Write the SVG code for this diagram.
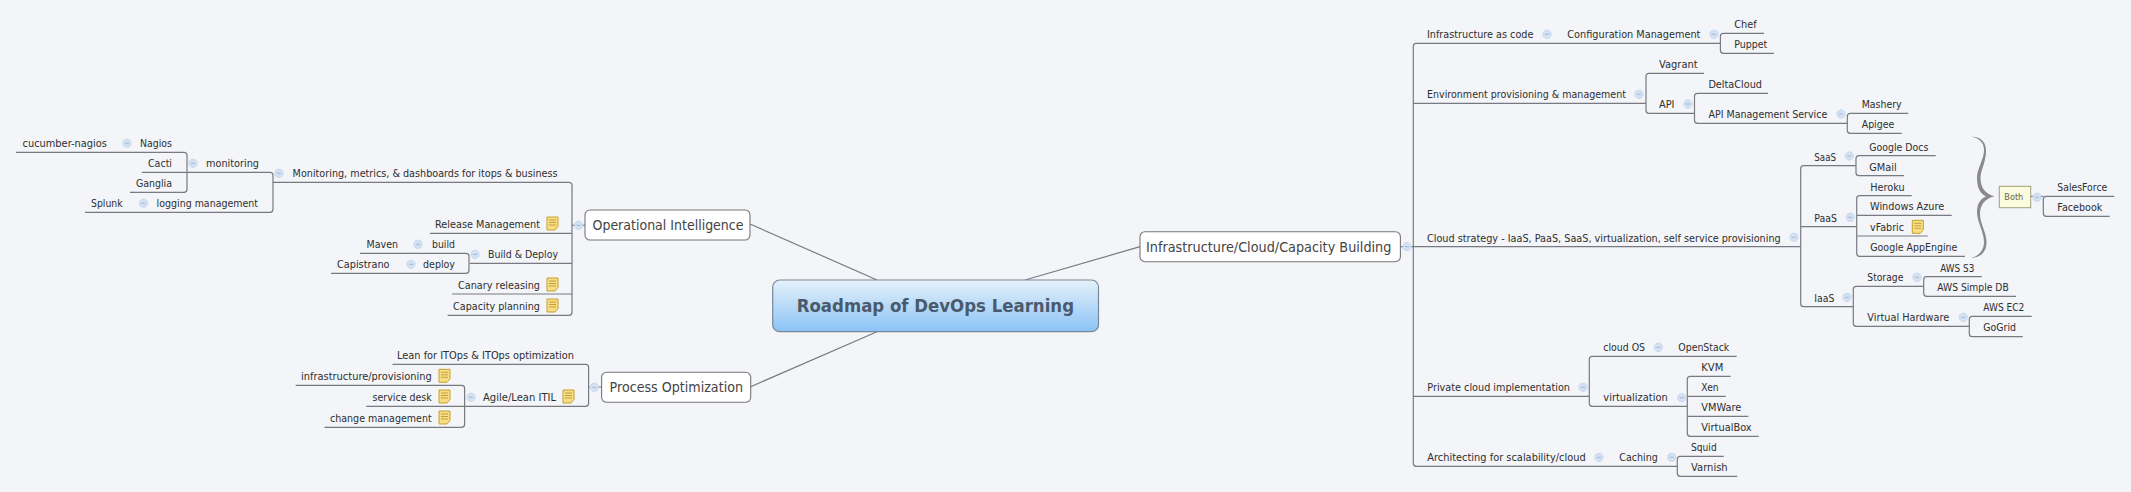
<svg xmlns="http://www.w3.org/2000/svg" width="2131" height="492" viewBox="0 0 2131 492">
<style>
text{font-family:"DejaVu Sans","Liberation Sans",sans-serif;font-size:11px;fill:#2e2e2e}
text.t{font-size:14px;fill:#444}
text.c{font-family:"DejaVu Sans",sans-serif;font-size:17.5px;font-weight:bold;fill:#4a5a6c}
text.b{font-size:8.5px;fill:#66664a}
.w{fill:#fff;stroke:#777;stroke-width:1.1}
#connectors path{fill:none;stroke:#777a80;stroke-width:1.2}
</style>
<defs>
<linearGradient id="g" x1="0" y1="0" x2="0" y2="1"><stop offset="0" stop-color="#e6f1fa"/><stop offset="1" stop-color="#8ac3f6"/></linearGradient>
<g id="k"><circle r="4.2" fill="#d3e1f3" stroke="#c4d5ec" stroke-width="0.8"/><path d="M-2 0H2" stroke="#9db2cf" stroke-width="0.9"/></g>
<g id="n"><path d="M0 0H11V9.5L8 13H0Z" fill="#f7de84" stroke="#c9a02c" stroke-width="1"/><path d="M2 3H9M2 5.5H9M2 8H9" stroke="#b8912a" stroke-width="0.8"/></g>
</defs>
<rect width="2131" height="492" fill="#f3f5f9"/>
<g id="connectors">
<path d="M750 224L877 280M750.7 386.7L877 331.7M1140 246.7L1025 280"/>
<path d="M16 152.3H184Q187 152.3 187 155.3V189.3Q187 192.3 184 192.3H130"/>
<path d="M142 172.3H187"/>
<path d="M187 172.3H270Q273 172.3 273 175.3V209.3Q273 212.3 270 212.3H85"/>
<path d="M273 182.3H569Q572 182.3 572 185.3V312.3Q572 315.3 569 315.3H447.6"/>
<path d="M430 233.3H572M470 263.3H572M452 294H572M572 225.3H585"/>
<path d="M360 253.3H466Q469 253.3 469 256.3V270.3Q469 273.3 466 273.3H331"/>
<path d="M392.5 364.3H585.6Q588.6 364.3 588.6 367.3V403.3Q588.6 406.3 585.6 406.3H366.3M588.6 387H601.6"/>
<path d="M295.7 385.3H461.6Q464.6 385.3 464.6 388.3V424.3Q464.6 427.3 461.6 427.3H324.5"/>
<path d="M1720.4 43.3H1416.3Q1413.3 43.3 1413.3 46.3V463.3Q1413.3 466.3 1416.3 466.3H1677.3"/>
<path d="M1400.4 246.7H1800.8M1413.3 103.3H1646M1413.3 396.3H1589.3"/>
<path d="M1764 33.3H1723.4Q1720.4 33.3 1720.4 36.3V50.3Q1720.4 53.3 1723.4 53.3H1774"/>
<path d="M1704 73.3H1649Q1646 73.3 1646 76.3V110.3Q1646 113.3 1649 113.3H1694.5"/>
<path d="M1768 93.3H1697.5Q1694.5 93.3 1694.5 96.3V120.3Q1694.5 123.3 1697.5 123.3H1847.3"/>
<path d="M1908.3 113.3H1850.3Q1847.3 113.3 1847.3 116.3V130.3Q1847.3 133.3 1850.3 133.3H1901.7"/>
<path d="M1856 165.7H1803.7Q1800.7 165.7 1800.7 168.7V303.7Q1800.7 306.7 1803.7 306.7H1853.3M1800.7 226.7H1856.7"/>
<path d="M1935.7 155.7H1859Q1856 155.7 1856 158.7V172.7Q1856 175.7 1859 175.7H1904"/>
<path d="M1911.7 195.7H1859.7Q1856.7 195.7 1856.7 198.7V253.3Q1856.7 256.3 1859.7 256.3H1965M1856.7 215.3H1951.7M1856.7 236H1927.7"/>
<path d="M1923.7 286.3H1856.3Q1853.3 286.3 1853.3 289.3V323.3Q1853.3 326.3 1856.3 326.3H1969.3"/>
<path d="M1981.7 276.7H1926.7Q1923.7 276.7 1923.7 279.7V293.3Q1923.7 296.3 1926.7 296.3H2016"/>
<path d="M2031.7 316.3H1972.3Q1969.3 316.3 1969.3 319.3V333.7Q1969.3 336.7 1972.3 336.7H2022.7"/>
<path d="M2030.7 196.3H2043.3M2114.3 196.3H2046.3Q2043.3 196.3 2043.3 199.3V213.3Q2043.3 216.3 2046.3 216.3H2109.7"/>
<path d="M1736.7 356.3H1592.3Q1589.3 356.3 1589.3 359.3V403.3Q1589.3 406.3 1592.3 406.3H1687.3"/>
<path d="M1730.7 376.3H1690.3Q1687.3 376.3 1687.3 379.3V433.3Q1687.3 436.3 1690.3 436.3H1758.7M1687.3 396.3H1725.7M1687.3 416.3H1748.3"/>
<path d="M1723.7 456.3H1680.3Q1677.3 456.3 1677.3 459.3V473.3Q1677.3 476.3 1680.3 476.3H1737.3"/>
</g>
<path id="brace" fill="#8a8a8a" d="M1971 136.7C1982 136.5 1986.5 143 1986 152C1985.5 163 1980.5 171 1980.5 178C1980.5 187 1985 194 1994.5 196.3C1985 198.5 1980 205 1980 214C1980 224 1986.5 232 1986.5 242C1986.5 251 1982 257.5 1971 258C1979 256 1984 250 1984 242C1984 232 1977 222 1977 212C1977 204 1980 199 1986 196.5C1980 194 1977 187 1977 178C1977 168 1984 160 1984 150C1984 142 1979 138 1971 136.7Z"/>

<g id="root"><rect x="772.7" y="280" width="325.8" height="51.7" rx="7" fill="url(#g)" stroke="#7a8797" stroke-width="1.2"/><text class="c" x="796.7" y="311.5" textLength="277.3" lengthAdjust="spacingAndGlyphs">Roadmap of DevOps Learning</text></g>

<g id="ops"><rect class="w" x="585" y="210" width="165" height="30" rx="5"/><text class="t" x="592.5" y="230" textLength="151" lengthAdjust="spacingAndGlyphs">Operational Intelligence</text><use href="#k" x="578.5" y="225.3"/></g>
<g id="proc"><rect class="w" x="601.6" y="372.3" width="149.1" height="30" rx="5"/><text class="t" x="609.5" y="391.5" textLength="133.5" lengthAdjust="spacingAndGlyphs">Process Optimization</text><use href="#k" x="594.3" y="387.3"/></g>
<g id="infra"><rect class="w" x="1140" y="231.7" width="260.4" height="30" rx="5"/><text class="t" x="1146" y="251.5" textLength="245.4" lengthAdjust="spacingAndGlyphs">Infrastructure/Cloud/Capacity Building</text><use href="#k" x="1407" y="246.7"/></g>

<g id="n1"><text x="22.5" y="147.3" textLength="84.5" lengthAdjust="spacingAndGlyphs">cucumber-nagios</text></g>
<g id="n2"><text x="140" y="147.3" textLength="32" lengthAdjust="spacingAndGlyphs">Nagios</text><use href="#k" x="127" y="143.3"/></g>
<g id="n3"><text x="148" y="167.3" textLength="24" lengthAdjust="spacingAndGlyphs">Cacti</text></g>
<g id="n4"><text x="206" y="167.3" textLength="53" lengthAdjust="spacingAndGlyphs">monitoring</text><use href="#k" x="193" y="163.3"/></g>
<g id="n5"><text x="136" y="187.3" textLength="36" lengthAdjust="spacingAndGlyphs">Ganglia</text></g>
<g id="n6"><text x="156.6" y="207.3" textLength="101.4" lengthAdjust="spacingAndGlyphs">logging management</text><use href="#k" x="143.5" y="203.3"/></g>
<g id="n7"><text x="91" y="207.3" textLength="31.6" lengthAdjust="spacingAndGlyphs">Splunk</text></g>
<g id="n8"><text x="292.6" y="177.3" textLength="264.9" lengthAdjust="spacingAndGlyphs">Monitoring, metrics, &amp; dashboards for itops &amp; business</text><use href="#k" x="279" y="173.3"/></g>
<g id="n9"><text x="435" y="228.3" textLength="105" lengthAdjust="spacingAndGlyphs">Release Management</text><use href="#n" x="547" y="217"/></g>
<g id="n10"><text x="488" y="258.3" textLength="70" lengthAdjust="spacingAndGlyphs">Build &amp; Deploy</text><use href="#k" x="475" y="254.3"/></g>
<g id="n11"><text x="432" y="248.3" textLength="23" lengthAdjust="spacingAndGlyphs">build</text><use href="#k" x="418" y="244.3"/></g>
<g id="n12"><text x="366.5" y="248.3" textLength="31.5" lengthAdjust="spacingAndGlyphs">Maven</text></g>
<g id="n13"><text x="423" y="268.3" textLength="32" lengthAdjust="spacingAndGlyphs">deploy</text><use href="#k" x="411" y="264.3"/></g>
<g id="n14"><text x="337" y="268.3" textLength="52.5" lengthAdjust="spacingAndGlyphs">Capistrano</text></g>
<g id="n15"><text x="458" y="289" textLength="82" lengthAdjust="spacingAndGlyphs">Canary releasing</text><use href="#n" x="547" y="278"/></g>
<g id="n16"><text x="453" y="310.3" textLength="87" lengthAdjust="spacingAndGlyphs">Capacity planning</text><use href="#n" x="547" y="299"/></g>

<g id="n17"><text x="397" y="359.3" textLength="177" lengthAdjust="spacingAndGlyphs">Lean for ITOps &amp; ITOps optimization</text></g>
<g id="n18"><text x="483" y="401.3" textLength="73" lengthAdjust="spacingAndGlyphs">Agile/Lean ITIL</text><use href="#n" x="563" y="390"/><use href="#k" x="471" y="397.3"/></g>
<g id="n19"><text x="301" y="380.3" textLength="130.7" lengthAdjust="spacingAndGlyphs">infrastructure/provisioning</text><use href="#n" x="439" y="369.3"/></g>
<g id="n20"><text x="372.6" y="401.3" textLength="59.1" lengthAdjust="spacingAndGlyphs">service desk</text><use href="#n" x="439" y="390"/></g>
<g id="n21"><text x="330" y="422.3" textLength="101.7" lengthAdjust="spacingAndGlyphs">change management</text><use href="#n" x="439" y="411"/></g>

<g id="n22"><text x="1427" y="38.3" textLength="106.4" lengthAdjust="spacingAndGlyphs">Infrastructure as code</text><use href="#k" x="1547" y="34.3"/></g>
<g id="n23"><text x="1567.3" y="38.3" textLength="133.1" lengthAdjust="spacingAndGlyphs">Configuration Management</text><use href="#k" x="1714" y="34.3"/></g>
<g id="n24"><text x="1734.3" y="28.3" textLength="22.3" lengthAdjust="spacingAndGlyphs">Chef</text></g>
<g id="n25"><text x="1734.3" y="48.3" textLength="33" lengthAdjust="spacingAndGlyphs">Puppet</text></g>
<g id="n26"><text x="1427" y="98.3" textLength="199" lengthAdjust="spacingAndGlyphs">Environment provisioning &amp; management</text><use href="#k" x="1639" y="94.3"/></g>
<g id="n27"><text x="1659" y="68.3" textLength="38.7" lengthAdjust="spacingAndGlyphs">Vagrant</text></g>
<g id="n28"><text x="1659" y="108.3" textLength="15.5" lengthAdjust="spacingAndGlyphs">API</text><use href="#k" x="1688" y="104"/></g>
<g id="n29"><text x="1708.4" y="88.3" textLength="53.6" lengthAdjust="spacingAndGlyphs">DeltaCloud</text></g>
<g id="n30"><text x="1708.4" y="118.3" textLength="118.9" lengthAdjust="spacingAndGlyphs">API Management Service</text><use href="#k" x="1841" y="114"/></g>
<g id="n31"><text x="1861.7" y="108.3" textLength="40" lengthAdjust="spacingAndGlyphs">Mashery</text></g>
<g id="n32"><text x="1861.7" y="128.3" textLength="32.6" lengthAdjust="spacingAndGlyphs">Apigee</text></g>
<g id="n33"><text x="1427" y="241.7" textLength="353.7" lengthAdjust="spacingAndGlyphs">Cloud strategy - IaaS, PaaS, SaaS, virtualization, self service provisioning</text><use href="#k" x="1794" y="237.3"/></g>
<g id="n34"><text x="1814.3" y="160.7" textLength="21.7" lengthAdjust="spacingAndGlyphs">SaaS</text><use href="#k" x="1849.3" y="156"/></g>
<g id="n35"><text x="1869.3" y="150.7" textLength="59" lengthAdjust="spacingAndGlyphs">Google Docs</text></g>
<g id="n36"><text x="1869.3" y="170.7" textLength="27.4" lengthAdjust="spacingAndGlyphs">GMail</text></g>
<g id="n37"><text x="1814.3" y="221.7" textLength="22.7" lengthAdjust="spacingAndGlyphs">PaaS</text><use href="#k" x="1850.3" y="217.3"/></g>
<g id="n38"><text x="1870.3" y="190.7" textLength="34.4" lengthAdjust="spacingAndGlyphs">Heroku</text></g>
<g id="n39"><text x="1870" y="210.3" textLength="74.3" lengthAdjust="spacingAndGlyphs">Windows Azure</text></g>
<g id="n40"><text x="1870" y="231" textLength="34" lengthAdjust="spacingAndGlyphs">vFabric</text><use href="#n" x="1912.3" y="220.3"/></g>
<g id="n41"><text x="1870.3" y="251.3" textLength="87" lengthAdjust="spacingAndGlyphs">Google AppEngine</text></g>
<g id="n42"><rect x="1999.3" y="186.3" width="31.4" height="21.4" fill="#fbfbdf" stroke="#a0a07a" stroke-width="1"/><text class="b" x="2004.3" y="199.8" textLength="19" lengthAdjust="spacingAndGlyphs">Both</text><use href="#k" x="2037" y="197.3"/></g>
<g id="n43"><text x="2057.3" y="191.3" textLength="50" lengthAdjust="spacingAndGlyphs">SalesForce</text></g>
<g id="n44"><text x="2057.3" y="211.3" textLength="45" lengthAdjust="spacingAndGlyphs">Facebook</text></g>
<g id="n45"><text x="1814.3" y="301.7" textLength="20" lengthAdjust="spacingAndGlyphs">IaaS</text><use href="#k" x="1847" y="297.3"/></g>
<g id="n46"><text x="1867.3" y="281.3" textLength="36" lengthAdjust="spacingAndGlyphs">Storage</text><use href="#k" x="1917" y="277.3"/></g>
<g id="n47"><text x="1940.3" y="271.7" textLength="34" lengthAdjust="spacingAndGlyphs">AWS S3</text></g>
<g id="n48"><text x="1937.3" y="291.3" textLength="71.4" lengthAdjust="spacingAndGlyphs">AWS Simple DB</text></g>
<g id="n49"><text x="1867.3" y="321.3" textLength="82" lengthAdjust="spacingAndGlyphs">Virtual Hardware</text><use href="#k" x="1963.3" y="317.3"/></g>
<g id="n50"><text x="1983.3" y="311.3" textLength="41" lengthAdjust="spacingAndGlyphs">AWS EC2</text></g>
<g id="n51"><text x="1983.3" y="330.7" textLength="32.7" lengthAdjust="spacingAndGlyphs">GoGrid</text></g>
<g id="n52"><text x="1427.3" y="391.3" textLength="142.7" lengthAdjust="spacingAndGlyphs">Private cloud implementation</text><use href="#k" x="1583" y="387.3"/></g>
<g id="n53"><text x="1603.3" y="351.3" textLength="41.7" lengthAdjust="spacingAndGlyphs">cloud OS</text><use href="#k" x="1658.3" y="347.3"/></g>
<g id="n54"><text x="1678.3" y="351.3" textLength="51" lengthAdjust="spacingAndGlyphs">OpenStack</text></g>
<g id="n55"><text x="1603.3" y="401.3" textLength="64.4" lengthAdjust="spacingAndGlyphs">virtualization</text><use href="#k" x="1681.7" y="397.7"/></g>
<g id="n56"><text x="1701.3" y="371.3" textLength="22" lengthAdjust="spacingAndGlyphs">KVM</text></g>
<g id="n57"><text x="1701.3" y="391.3" textLength="17.4" lengthAdjust="spacingAndGlyphs">Xen</text></g>
<g id="n58"><text x="1701.3" y="411.3" textLength="40" lengthAdjust="spacingAndGlyphs">VMWare</text></g>
<g id="n59"><text x="1701.3" y="431.3" textLength="50.4" lengthAdjust="spacingAndGlyphs">VirtualBox</text></g>
<g id="n60"><text x="1427.3" y="461.3" textLength="158.4" lengthAdjust="spacingAndGlyphs">Architecting for scalability/cloud</text><use href="#k" x="1599" y="457.3"/></g>
<g id="n61"><text x="1619.3" y="461.3" textLength="38.4" lengthAdjust="spacingAndGlyphs">Caching</text><use href="#k" x="1671.7" y="457.3"/></g>
<g id="n62"><text x="1691" y="451.3" textLength="25.7" lengthAdjust="spacingAndGlyphs">Squid</text></g>
<g id="n63"><text x="1691" y="471.3" textLength="36.7" lengthAdjust="spacingAndGlyphs">Varnish</text></g>
</svg>
